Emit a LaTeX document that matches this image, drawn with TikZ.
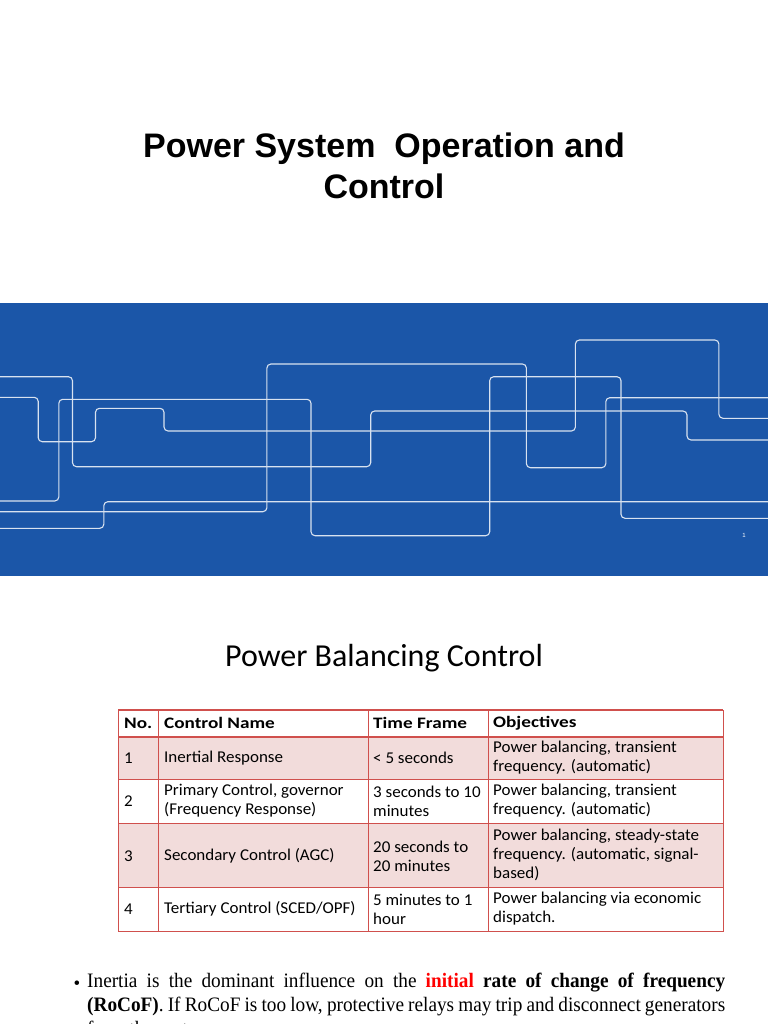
\documentclass[tikz,border=0pt]{standalone}
\usepackage{fontspec}
\setmainfont{Liberation Serif}
\newfontfamily\bodyf[FakeStretch=0.94]{Liberation Serif}
\newfontfamily\arialf{Liberation Sans}
\newfontfamily\calf[FakeStretch=1.03]{Carlito}
\newfontfamily\calh[FakeStretch=1.2]{Carlito}
\newfontfamily\calt{Carlito}
\definecolor{banner}{HTML}{1B56A8}
\definecolor{tred}{HTML}{D0504D}
\definecolor{tpink}{HTML}{F2DCDB}
\definecolor{wline}{HTML}{D8E2F0}
\begin{document}
\begin{tikzpicture}[x=1pt,y=-1pt,
  wire/.style={draw=wline,line width=1.1pt,rounded corners=4pt},
  cell/.style={anchor=west,font=\calf\fontsize{16.5}{19}\selectfont,align=left,inner sep=0pt},
  hcell/.style={cell,font=\calh\bfseries\fontsize{16}{19}\selectfont},
  grid/.style={draw=tred,line width=0.8pt}]
\useasboundingbox (0,0) rectangle (768,1024);
\clip (0,0) rectangle (768,1024);
\fill[white] (0,0) rectangle (768,1024);
\node[font=\arialf\bfseries\fontsize{34}{41}\selectfont,align=center] (title) at (384,166) {Power System\ \ Operation and\\Control};
% banner
\fill[banner] (0,303) rectangle (768,576);
\draw[wire] (0,376.7)--(72.5,376.7)--(72.5,466.7)--(370.7,466.7)--(370.7,411)--(687,411)--(687,440)--(768,440);
\draw[wire] (0,397.3)--(38.2,397.3)--(38.2,441.7)--(95.5,441.7)--(95.5,408.3)--(164,408.3)--(164,431)--(575.4,431)--(575.4,340)--(718.9,340)--(718.9,418.3)--(768,418.3);
\draw[wire] (0,501)--(58.8,501)--(58.8,399.3)--(311,399.3)--(311,535.7)--(489.7,535.7)--(489.7,376.7)--(621,376.7)--(621,518.3)--(768,518.3);
\draw[wire] (0,511.7)--(266.9,511.7)--(266.9,364)--(526.4,364)--(526.4,467.7)--(605.8,467.7)--(605.8,397.7)--(768,397.7);
\draw[wire] (0,528.3)--(103.8,528.3)--(103.8,501.7)--(768,501.7);
\node[text=white,font=\arialf\fontsize{6}{7}\selectfont] (pg) at (744,535) {1};
% subtitle
\node[font=\calt\fontsize{32}{38}\selectfont] (sub) at (384,658) {Power Balancing Control};
% table
\fill[tpink] (118,737) rectangle (723,779);
\fill[tpink] (118,823) rectangle (723,887);
\draw[grid] (118,710) rectangle (723,931);
\foreach \yy in {779,823,887} \draw[grid] (118,\yy)--(723,\yy);
\draw[draw=tred,line width=1.6pt] (118,737)--(723,737);
\draw[draw=tred,line width=1.6pt] (118,710)--(723,710);
\foreach \xx in {158,368,488} \draw[grid] (\xx,710)--(\xx,931);
\node[hcell] (h1) at (124,723) {No.};
\node[hcell] (h2) at (164,723) {Control Name};
\node[hcell] (h3) at (373,723) {Time Frame};
\node[hcell] (h4) at (493,723) {Objectives};
\node[cell] (a1) at (124,758) {1};
\node[cell] (a2) at (164,758) {Inertial Response};
\node[cell] (a3) at (373,758) {< 5 seconds};
\node[cell] (a4) at (493,758) {Power balancing, transient\\frequency. (automatic)};
\node[cell] (b1) at (124,801) {2};
\node[cell] (b2) at (164,801) {Primary Control, governor\\(Frequency Response)};
\node[cell] (b3) at (373,801) {3 seconds to 10\\minutes};
\node[cell] (b4) at (493,801) {Power balancing, transient\\frequency. (automatic)};
\node[cell] (c1) at (124,856) {3};
\node[cell] (c2) at (164,856) {Secondary Control (AGC)};
\node[cell] (c3) at (373,856) {20 seconds to\\20 minutes};
\node[cell] (c4) at (493,855) {Power balancing, steady-state\\frequency. (automatic, signal-\\based)};
\node[cell] (d1) at (124,909) {4};
\node[cell] (d2) at (164,909) {Tertiary Control (SCED/OPF)};
\node[cell] (d3) at (373,909) {5 minutes to 1\\hour};
\node[cell] (d4) at (493,909) {Power balancing via economic\\dispatch.};
% bullet
\node[font=\fontsize{19}{24}\selectfont] (bul) at (77,985) {\textbullet};
\node[anchor=north west,inner sep=0pt,text width=638pt,align=justify,font=\bodyf\fontsize{20.5}{24}\selectfont] (txt) at (87,973)
 {\hyphenpenalty=10000\relax Inertia is the dominant influence on the \textcolor{red}{\textbf{initial}} \textbf{rate of change of frequency}\linebreak\textbf{(RoCoF)}. If RoCoF is too low, protective relays may trip and disconnect generators\linebreak from the system.};
\end{tikzpicture}
\end{document}
